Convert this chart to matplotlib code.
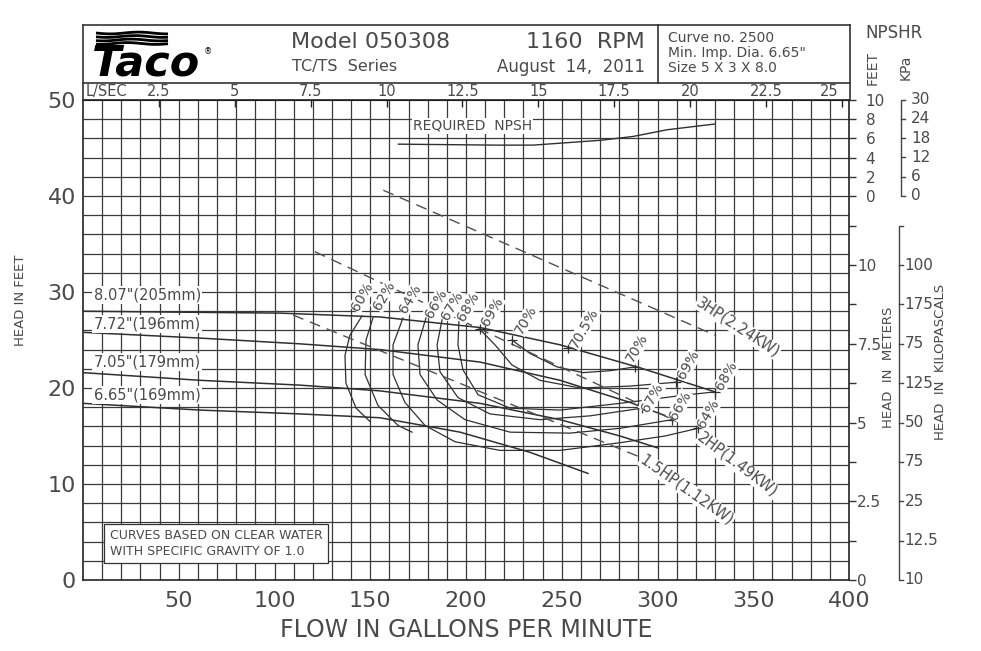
import numpy as np
import matplotlib.pyplot as plt
import matplotlib.transforms as mtransforms

# ---- values (flow in gpm, head in feet) ----
flow_ticks = [50, 100, 150, 200, 250, 300, 350, 400]
head_ticks = [0, 10, 20, 30, 40, 50]
lsec_ticks = [2.5, 5, 7.5, 10, 12.5, 15, 17.5, 20, 22.5, 25]
meter_ticks = [0, 2.5, 5, 7.5, 10]
meter_minor = [1.25, 3.75, 6.25, 8.75, 11.25]
npsh_ft_ticks = [0, 2, 4, 6, 8, 10]
npsh_kpa_ticks = [0, 6, 12, 18, 24, 30]
kpa_head_pos_m = [0, 1.25, 2.5, 3.75, 5, 6.25, 7.5, 8.75, 10]
kpa_head_labels = ['10', '12.5', '25', '75', '50', '125', '75', '175', '100']

# impeller curves
imp_labels = ['8.07"(205mm)', '7.72"(196mm)', '7.05"(179mm)', '6.65"(169mm)']
imp_807_q = [0, 50.7, 102.9, 155.1, 207.3, 249.1, 290.9, 330.0]
imp_807_h = [28.0, 27.9, 27.8, 27.4, 26.3, 24.5, 22.1, 19.6]
imp_772_q = [0, 61.1, 113.3, 155.1, 207.3, 249.1, 285.6, 309.7]
imp_772_h = [25.8, 25.2, 24.6, 24.0, 22.7, 20.8, 18.5, 16.7]
imp_705_q = [0, 61.1, 113.3, 155.1, 207.3, 249.1, 280.4, 300.3]
imp_705_h = [21.6, 20.8, 20.3, 19.7, 18.4, 16.7, 15.0, 13.75]
imp_665_q = [0, 61.1, 113.3, 155.1, 196.9, 233.4, 263.7]
imp_665_h = [18.4, 17.7, 17.3, 16.9, 15.4, 13.3, 11.1]

# efficiency contours
eff_60_q = [145.7, 139.4, 136.8, 137.3, 142.6, 149.9]
eff_60_h = [27.5, 25.5, 23.4, 20.5, 17.9, 16.5]
eff_62_q = [151.4, 147.8, 147.3, 154.0, 164.5, 171.8]
eff_62_h = [27.3, 25.0, 21.4, 18.2, 16.1, 15.4]
eff_64_q = [167.1, 161.9, 161.9, 168.1, 178.6, 194.3, 217.8, 249.1, 280.4, 303.9, 321.1]
eff_64_h = [27.3, 24.5, 21.4, 18.5, 16.1, 14.4, 13.5, 13.5, 14.3, 15.0, 15.8]
eff_66_q = [179.1, 174.9, 176.0, 184.9, 199.5, 223.0, 254.3, 280.4, 307.6]
eff_66_h = [27.3, 24.5, 21.4, 18.75, 16.7, 15.4, 15.3, 15.8, 16.7]
eff_67_q = [187.5, 184.9, 186.4, 195.8, 212.5, 238.6, 264.8, 291.9]
eff_67_h = [27.1, 24.5, 21.7, 19.0, 17.3, 16.7, 17.1, 17.9]
eff_68_q = [196.3, 195.8, 198.4, 206.3, 223.0, 249.1, 280.4, 311.7, 330.0]
eff_68_h = [26.9, 24.5, 21.9, 19.3, 17.9, 17.7, 18.4, 19.2, 19.6]
eff_69_q = [207.3, 215.1, 224.0, 238.6, 259.5, 285.6, 309.7]
eff_69_h = [26.1, 24.5, 22.4, 20.8, 20.0, 20.2, 20.6]
eff_70_q = [224.0, 233.4, 247.5, 261.1, 275.2, 288.3]
eff_70_h = [25.0, 23.6, 22.2, 21.6, 21.8, 22.2]
eff_705_q = [253.3]
eff_705_h = [24.2]

eff_labels = ['60%', '62%', '64%', '66%', '67%', '68%', '69%', '70%', '70.5%',
              '70%', '69%', '68%', '67%', '66%', '64%']
eff_label_q = [145.7, 157.2, 170.8, 184.3, 192.7, 201.0, 213.6, 231.3, 261.6,
               289.3, 315.9, 335.8, 297.1, 311.7, 326.4]
eff_label_h = [29.5, 29.6, 29.3, 28.75, 28.6, 28.5, 28.0, 27.1, 26.25,
               24.2, 22.4, 21.25, 19.0, 18.2, 17.3]

# horsepower lines
hp_labels = ['3HP(2.24KW)', '2HP(1.49KW)', '1.5HP(1.12KW)']
hp_q = [[156.8, 330.0], [121.1, 310.2], [109.7, 290.9]]
hp_h = [[40.6, 25.5], [34.2, 16.5], [27.6, 12.8]]
hp_label_q = [342.0, 342.0, 315.4]
hp_label_h = [26.35, 12.0, 9.4]
hp_label_rot = [-33, -37, -35]

# required NPSH (feet of NPSH)
npsh_q = [164.7, 216.0, 235.0, 270.0, 287.2, 305.0, 330.0]
npsh_ft = [5.4, 5.3, 5.3, 5.8, 6.2, 6.9, 7.5]

TXT = '#4a4a4a'
LINE = '#303030'

fig = plt.figure(figsize=(9.81, 6.51), dpi=100)
W, H = 981, 651
L, R, B, T = 83, 849, 580, 100
ax = fig.add_axes([L / W, 1 - B / H, (R - L) / W, (B - T) / H])
ax.set_xlim(0, 400)
ax.set_ylim(0, 50)

# grid
ax.vlines(np.arange(10, 400, 10), 0, 50, color='#3a3a3a', lw=0.9, zorder=1)
ax.hlines(np.arange(2, 50, 2), 0, 400, color='#3a3a3a', lw=0.9, zorder=1)

for s in ax.spines.values():
    s.set_linewidth(1.2)
    s.set_color('#222222')

ax.set_xticks(flow_ticks)
ax.set_yticks(head_ticks)
ax.tick_params(axis='both', length=0, labelsize=16, labelcolor=TXT)
ax.tick_params(axis='x', pad=8)
ax.tick_params(axis='y', pad=5)

# impeller curves
imps = [(imp_807_q, imp_807_h), (imp_772_q, imp_772_h),
        (imp_705_q, imp_705_h), (imp_665_q, imp_665_h)]
for q, h in imps:
    ax.plot(q, h, color=LINE, lw=1.1, zorder=3)

imp_label_h = [29.7, 26.7, 22.7, 19.3]
for lab, yh in zip(imp_labels, imp_label_h):
    ax.text(5.5, yh, lab, fontsize=10.5, color=TXT, va='center', ha='left', zorder=5,
            bbox=dict(fc='white', ec='none', pad=1.0))

# efficiency contours
effs = [(eff_60_q, eff_60_h), (eff_62_q, eff_62_h), (eff_64_q, eff_64_h),
        (eff_66_q, eff_66_h), (eff_67_q, eff_67_h), (eff_68_q, eff_68_h),
        (eff_69_q, eff_69_h), (eff_70_q, eff_70_h)]
for q, h in effs:
    ax.plot(q, h, color=LINE, lw=0.9, zorder=3)

# small crosses where the contours meet their labels
mark_q = [eff_69_q[0], eff_70_q[0], eff_705_q[0], eff_70_q[-1], eff_69_q[-1], eff_68_q[-1],
          eff_67_q[-1], eff_66_q[-1], eff_64_q[-1]]
mark_h = [eff_69_h[0], eff_70_h[0], eff_705_h[0], eff_70_h[-1], eff_69_h[-1], eff_68_h[-1],
          eff_67_h[-1], eff_66_h[-1], eff_64_h[-1]]
ax.plot(mark_q, mark_h, ls='none', marker='+', ms=7, mew=0.9, color=LINE, zorder=4)

for lab, q, h in zip(eff_labels, eff_label_q, eff_label_h):
    ax.text(q, h, lab, fontsize=10, color=TXT, rotation=60, ha='center', va='center',
            rotation_mode='anchor', zorder=5, bbox=dict(fc='white', ec='none', pad=0.3))

# horsepower lines
for q, h, lab, lq, lh, rot in zip(hp_q, hp_h, hp_labels, hp_label_q, hp_label_h, hp_label_rot):
    ax.plot(q, h, color='#505050', lw=1.0, ls=(0, (8, 5)), zorder=3)
    ax.text(lq, lh, lab, fontsize=10.5, color=TXT, rotation=rot, ha='center', va='center',
            rotation_mode='anchor', zorder=5, bbox=dict(fc='white', ec='none', pad=0.5))

# NPSH
ax.plot(npsh_q, [40 + v for v in npsh_ft], color=LINE, lw=1.0, zorder=3)
ax.text(172.3, 47.3, 'REQUIRED  NPSH', fontsize=10, color=TXT, va='center', ha='left',
        zorder=5, bbox=dict(fc='white', ec='none', pad=1.0))

ax.text(14.1, 3.8, 'CURVES BASED ON CLEAR WATER\nWITH SPECIFIC GRAVITY OF 1.0', fontsize=9,
        color=TXT, va='center', ha='left', linespacing=1.25, zorder=5,
        bbox=dict(boxstyle='square,pad=0.45', fc='white', ec='#333333', lw=0.9))

ax.set_xlabel('FLOW IN GALLONS PER MINUTE', fontsize=17, color=TXT, labelpad=5)
ax.text(-0.082, 0.583, 'HEAD IN FEET', transform=ax.transAxes, rotation=90, fontsize=9.5,
        color=TXT, ha='center', va='center')

# top L/SEC axis
ls_per_gpm = 0.0630902
top = ax.secondary_xaxis('top', functions=(lambda g: g * ls_per_gpm, lambda s: s / ls_per_gpm))
top.set_xticks(lsec_ticks)
top.tick_params(direction='in', length=5, width=1, color='#222222', labeltop=False)
bt = mtransforms.blended_transform_factory(ax.transData, ax.transAxes)
for v in lsec_ticks:
    lab = f'{v:g}'
    ha = 'right' if v == 25 else 'center'
    xq = v / ls_per_gpm - (1.5 if v == 25 else 0)
    ax.text(xq, 1.018, lab, transform=bt, fontsize=10.5, color=TXT, ha=ha, va='center')
ax.text(1.5, 1.018, 'L/SEC', transform=bt, fontsize=10.5, color=TXT, ha='left', va='center')

# right: head in meters
sec = ax.secondary_yaxis('right', functions=(lambda f: f * 0.3048, lambda m: m / 0.3048))
sec.set_yticks(meter_ticks)
sec.set_yticklabels([f'{v:g}' for v in meter_ticks])
sec.set_yticks(meter_minor, minor=True)
sec.tick_params(which='both', direction='out', length=5, width=1, color='#333333',
                labelsize=11, labelcolor=TXT, pad=1)
sec.spines['right'].set_visible(False)

# right: NPSH feet
nps = ax.secondary_yaxis('right', functions=(lambda f: f - 40, lambda n: n + 40))
nps.set_yticks(npsh_ft_ticks)
nps.set_yticklabels([f'{v:g}' for v in npsh_ft_ticks])
nps.tick_params(direction='out', length=5, width=1, color='#333333',
                labelsize=11, labelcolor=TXT, pad=7)
nps.spines['right'].set_visible(False)

ax.text(1.051, 0.444, 'HEAD  IN  METERS', transform=ax.transAxes, rotation=90, fontsize=9.5,
        color=TXT, ha='center', va='center')
ax.text(1.119, 0.454, 'HEAD  IN  KILOPASCALS', transform=ax.transAxes, rotation=90,
        fontsize=9.5, color=TXT, ha='center', va='center')

# kPa brackets
ay = mtransforms.blended_transform_factory(ax.transAxes, ax.transData)
tk = 4.0 / (R - L)
xb = (899 - L) / (R - L)
top_m = 11.25
ax.plot([xb + tk, xb, xb, xb + tk], [top_m / 0.3048, top_m / 0.3048, 0, 0], transform=ay,
        color='#444444', lw=1.0, clip_on=False)
for m in kpa_head_pos_m[1:]:
    ax.plot([xb, xb + tk], [m / 0.3048] * 2, transform=ay, color='#444444', lw=1.0, clip_on=False)
for m, lab in zip(kpa_head_pos_m, kpa_head_labels):
    ax.text(xb + 1.4 * tk, m / 0.3048, lab, transform=ay, fontsize=11, color=TXT,
            ha='left', va='center')

xk = (901 - L) / (R - L)
kpa_per_ft = 2.989
ax.plot([xk + tk, xk, xk, xk + tk], [50, 50, 40, 40], transform=ay, color='#444444', lw=1.0,
        clip_on=False)
for k in npsh_kpa_ticks[1:-1]:
    ax.plot([xk, xk + tk], [40 + k / kpa_per_ft] * 2, transform=ay, color='#444444', lw=1.0,
            clip_on=False)
for k in npsh_kpa_ticks:
    ax.text(xk + 2.5 * tk, 40 + k / kpa_per_ft, f'{k}', transform=ay, fontsize=11, color=TXT,
            ha='left', va='center')

# header, drawn in pixel space
ov = fig.add_axes([0, 0, 1, 1], zorder=3)
ov.set_xlim(0, W)
ov.set_ylim(H, 0)
ov.axis('off')
ov.patch.set_alpha(0)
hc = '#333333'
ov.plot([L, 850], [25, 25], color=hc, lw=1.2)
ov.plot([L, 850], [83, 83], color=hc, lw=1.2)
ov.plot([L, L], [25, T], color=hc, lw=1.2)
ov.plot([850, 850], [25, T], color=hc, lw=1.2)
ov.plot([658, 658], [25, 83], color=hc, lw=1.2)

# Taco logo
xs = np.linspace(96, 168, 40)
for i, yb in enumerate([33, 36.5, 40, 43.5]):
    ov.plot(xs, yb + 0.9 * np.sin((xs - 96) / 9.0 + i * 0.4), color='black', lw=2.0,
            solid_capstyle='butt')
ov.text(92, 64, 'Taco', fontsize=31, fontweight='heavy', fontstyle='italic', color='black',
        ha='left', va='center')
ov.text(204, 52, '®', fontsize=6, color='black', ha='left', va='center')

ov.text(291, 42, 'Model 050308', fontsize=16, color=TXT, ha='left', va='center')
ov.text(292, 67, 'TC/TS  Series', fontsize=11.5, color=TXT, ha='left', va='center')
ov.text(645, 42, '1160  RPM', fontsize=16, color=TXT, ha='right', va='center')
ov.text(645, 67, 'August  14,  2011', fontsize=12, color=TXT, ha='right', va='center')
ov.text(668, 38, 'Curve no. 2500', fontsize=10, color=TXT, ha='left', va='center')
ov.text(668, 53, 'Min. Imp. Dia. 6.65"', fontsize=10, color=TXT, ha='left', va='center')
ov.text(668, 68, 'Size 5 X 3 X 8.0', fontsize=10, color=TXT, ha='left', va='center')
ov.text(865, 33, 'NPSHR', fontsize=12, color=TXT, ha='left', va='center')
ov.text(873, 68, 'FEET', fontsize=10, color=TXT, rotation=90, ha='center', va='center')
ov.text(906, 67, 'KPa', fontsize=10, color=TXT, rotation=90, ha='center', va='center')

fig.savefig('out.png', dpi=100)
